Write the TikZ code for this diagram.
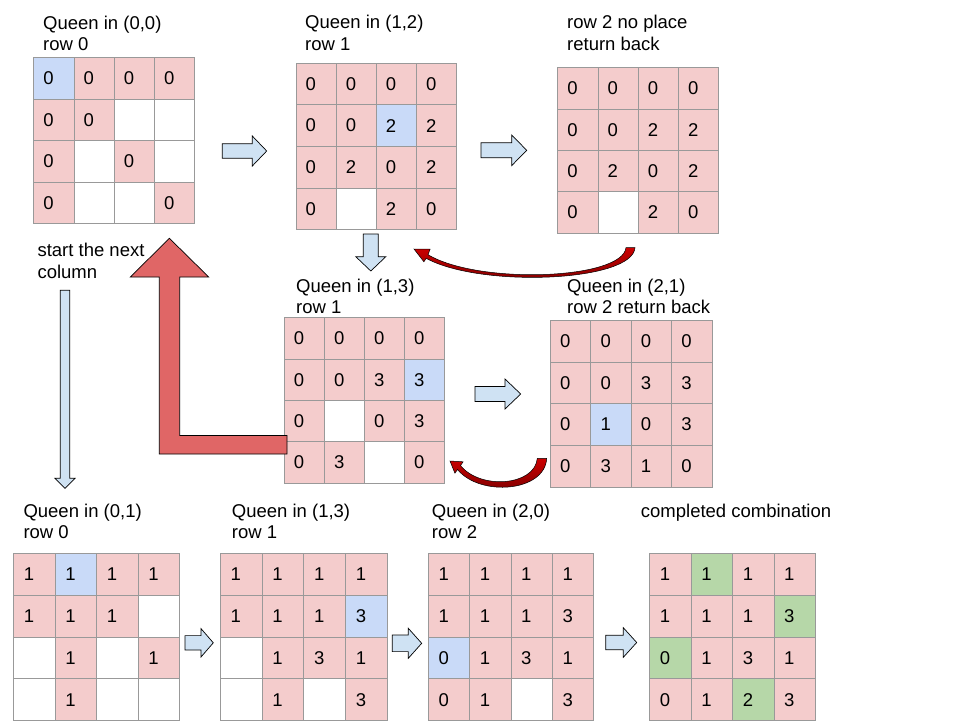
\documentclass[tikz,border=0pt]{standalone}
\usepackage{fontspec}
\setmainfont{Liberation Sans}
\definecolor{pk}{HTML}{F4CCCC}
\definecolor{bl}{HTML}{C9DAF8}
\definecolor{gr}{HTML}{B6D7A8}
\definecolor{wh}{HTML}{FFFFFF}
\definecolor{gl}{HTML}{999999}
\definecolor{ab}{HTML}{CFE2F3}
\definecolor{rd}{HTML}{E06666}
\tikzset{
  cell/.style={draw=gl, line width=0.8pt, inner xsep=9.5pt, inner ysep=0pt,
    text width=21pt, align=left, font=\fontsize{18.5}{20}\selectfont, anchor=north west},
  lbl/.style={anchor=base west, inner sep=0pt, font=\fontsize{18.5}{22}\selectfont},
  barrow/.style={draw=black, line width=0.7pt, fill=ab, line join=miter},
  redarrow/.style={draw=black, line width=0.7pt, fill=rd, line join=miter},
  curvarrow/.style={draw=black, line width=0.5pt, top color=red!80!black, bottom color=red!45!black}
}
\newcommand\qrow[7]{%
  \foreach \c/\t [count=\i from 0] in {#7}{%
    \node[cell, fill=\c, minimum width=#5pt, minimum height=#6pt] (#1-#2-\i) at ({#3+\i*#5},{#4}) {\t};}}
\newcommand\qgrid[9]{%
  \qrow{#1}{0}{#2}{#3}{#4}{#5}{#6}%
  \qrow{#1}{1}{#2}{#3+#5}{#4}{#5}{#7}%
  \qrow{#1}{2}{#2}{#3+2*#5}{#4}{#5}{#8}%
  \qrow{#1}{3}{#2}{#3+3*#5}{#4}{#5}{#9}}
\newcommand\rarr[7]{%
  \coordinate (#1) at (#2,#4);
  \draw[barrow] (#2,#4-#6) -- (#7,#4-#6) -- (#7,#4-#5) -- (#3,#4) -- (#7,#4+#5) -- (#7,#4+#6) -- (#2,#4+#6) -- cycle;}
\newcommand\darr[7]{%
  \coordinate (#1) at (#2,#3);
  \draw[barrow] (#2-#6,#3) -- (#2-#6,#7) -- (#2-#5,#7) -- (#2,#4) -- (#2+#5,#7) -- (#2+#6,#7) -- (#2+#6,#3) -- cycle;}
\begin{document}
\begin{tikzpicture}[x=1pt,y=-1pt]
\clip (0,0) rectangle (960,720);
\fill[white] (0,0) rectangle (960,720);

% titles
\node[lbl] (t1a) at (43,29) {Queen in (0,0)};
\node[lbl] (t1b) at (43,50.5) {row 0};
\node[lbl] (t2a) at (305,28.5) {Queen in (1,2)};
\node[lbl] (t2b) at (305,50) {row 1};
\node[lbl] (t3a) at (567,28.5) {row 2 no place};
\node[lbl] (t3b) at (567,50) {return back};
\node[lbl] (tsa) at (37.3,256) {start the next};
\node[lbl] (tsb) at (37.3,278) {column};
\node[lbl] (t4a) at (296,292) {Queen in (1,3)};
\node[lbl] (t4b) at (296,313.5) {row 1};
\node[lbl] (t5a) at (567,292) {Queen in (2,1)};
\node[lbl] (t5b) at (567,313.5) {row 2 return back};
\node[lbl] (t6a) at (23.3,517) {Queen in (0,1)};
\node[lbl] (t6b) at (23.3,538.5) {row 0};
\node[lbl] (t7a) at (231.7,517) {Queen in (1,3)};
\node[lbl] (t7b) at (231.7,538.5) {row 1};
\node[lbl] (t8a) at (431.7,517) {Queen in (2,0)};
\node[lbl] (t8b) at (431.7,538.5) {row 2};
\node[lbl] (t9a) at (640.7,517) {completed combination};

% grids
\qgrid{g1}{33.3}{57}{40.25}{41.58}{bl/0,pk/0,pk/0,pk/0}{pk/0,pk/0,wh/{},wh/{}}{pk/0,wh/{},pk/0,wh/{}}{pk/0,wh/{},wh/{},pk/0}
\qgrid{g2}{295.7}{62.7}{40.15}{41.65}{pk/0,pk/0,pk/0,pk/0}{pk/0,pk/0,bl/2,pk/2}{pk/0,pk/2,pk/0,pk/2}{pk/0,wh/{},pk/2,pk/0}
\qgrid{g3}{557.3}{67.3}{40.25}{41.35}{pk/0,pk/0,pk/0,pk/0}{pk/0,pk/0,pk/2,pk/2}{pk/0,pk/2,pk/0,pk/2}{pk/0,wh/{},pk/2,pk/0}
\qgrid{g4}{284}{317.3}{40.08}{41.35}{pk/0,pk/0,pk/0,pk/0}{pk/0,pk/0,pk/3,bl/3}{pk/0,wh/{},pk/0,pk/3}{pk/0,pk/3,wh/{},pk/0}
\qgrid{g5}{550}{320}{40.43}{41.68}{pk/0,pk/0,pk/0,pk/0}{pk/0,pk/0,pk/3,pk/3}{pk/0,bl/1,pk/0,pk/3}{pk/0,pk/3,pk/1,pk/0}
\qgrid{g6}{13.3}{553.3}{41.5}{41.7}{pk/1,bl/1,pk/1,pk/1}{pk/1,pk/1,pk/1,wh/{}}{wh/{},pk/1,wh/{},pk/1}{wh/{},pk/1,wh/{},wh/{}}
\qgrid{g7}{220}{553.3}{41.68}{41.7}{pk/1,pk/1,pk/1,pk/1}{pk/1,pk/1,pk/1,bl/3}{wh/{},pk/1,pk/3,pk/1}{wh/{},pk/1,wh/{},pk/3}
\qgrid{g8}{428}{553.3}{41.33}{41.7}{pk/1,pk/1,pk/1,pk/1}{pk/1,pk/1,pk/1,pk/3}{bl/0,pk/1,pk/3,pk/1}{pk/0,pk/1,wh/{},pk/3}
\qgrid{g9}{649.3}{553.3}{41.43}{41.7}{pk/1,gr/1,pk/1,pk/1}{pk/1,pk/1,pk/1,gr/3}{gr/0,pk/1,pk/3,pk/1}{pk/0,pk/1,gr/2,pk/3}

% block arrows
\rarr{a1}{222.3}{266.7}{151}{15}{7.2}{252.3}
\rarr{a2}{481}{526.7}{150.3}{15.3}{7.5}{511.7}
\rarr{a3}{475}{520.7}{394}{15}{7.5}{505}
\rarr{a4}{185}{213.3}{642.8}{14.2}{7.2}{201}
\rarr{a5}{392.3}{421.7}{643.3}{15}{8.3}{408.3}
\rarr{a6}{605.7}{636.7}{642.5}{14.8}{7.2}{623.3}
\darr{d1}{370.8}{234}{271}{15}{7.5}{256.7}
\darr{d2}{65}{290.3}{488.3}{10}{4.7}{478.3}

% big red L arrow
\draw[redarrow] (287,435.5) -- (179.7,435.5) -- (179.7,277) -- (208.7,277) -- (169.4,238.3)
  -- (130.3,277) -- (159.3,277) -- (159.3,454) -- (287,454) -- cycle;

% curved return arrows
\path[curvarrow] (635,247.5) .. controls (633,282) and (480,288) .. (426.2,258.3)
  -- (423.9,261.8) -- (414,249) -- (430.1,249.2) -- (428,254.7)
  .. controls (479,285) and (623,279.5) .. (626,247.5) -- cycle;
\path[curvarrow] (546.7,458.3) .. controls (545,492) and (480,497) .. (457.5,469.5)
  -- (454.9,473.2) -- (450,461) -- (463.1,461.8) -- (460.5,465.5)
  .. controls (480,490) and (535,486) .. (537.3,458.3) -- cycle;
\end{tikzpicture}
\end{document}
